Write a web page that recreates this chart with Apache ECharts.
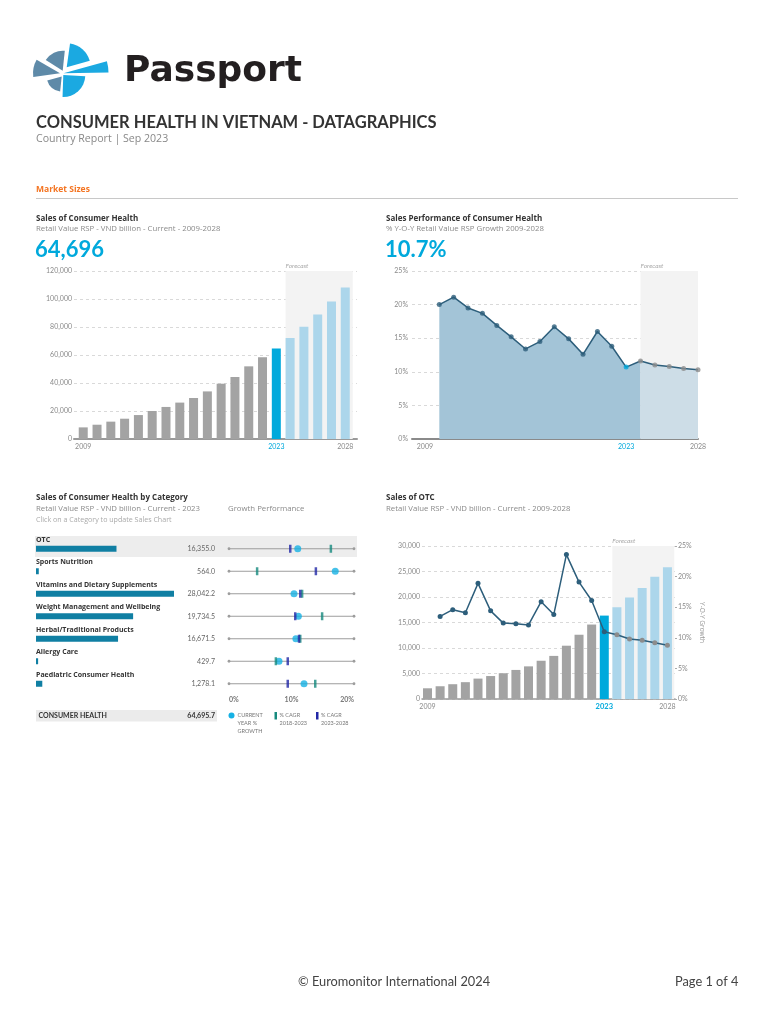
<!DOCTYPE html>
<html>
<head>
<meta charset="utf-8">
<title>Consumer Health in Vietnam - Datagraphics</title>
<script src="https://cdn.jsdelivr.net/npm/echarts@6/dist/echarts.min.js"></script>
<style>
html, body { margin: 0; padding: 0; background: #fff; }
#page { width: 768px; height: 1024px; }
</style>
</head>
<body>
<div id="page"></div>
<script>
// values
const years = ['2009', '2010', '2011', '2012', '2013', '2014', '2015', '2016', '2017', '2018',
               '2019', '2020', '2021', '2022', '2023', '2024', '2025', '2026', '2027', '2028'];
const lastActual = '2023';
const yearLabels = [2009, 2023, 2028];

const healthSales = [8300, 10200, 12400, 14500, 17100, 20000, 22900, 26000, 29300, 34000,
                     39500, 44300, 51900, 58400, 64696, 72200, 80200, 89000, 98200, 108300];
const healthGrowth = [null, 20.0, 21.1, 19.5, 18.7, 16.9, 15.2, 13.4, 14.5, 16.7,
                      14.9, 12.6, 16.0, 13.8, 10.7, 11.6, 11.0, 10.8, 10.5, 10.3];

const otcSales = [2100, 2500, 2900, 3300, 4000, 4500, 5050, 5700, 6400, 7500,
                  8450, 10450, 12600, 14600, 16355, 18000, 19900, 21750, 23950, 25850];
const otcGrowth = [null, 13.5, 14.6, 14.1, 18.9, 14.4, 12.4, 12.3, 12.1, 15.9,
                   13.8, 23.6, 19.1, 16.1, 11.0, 10.5, 9.8, 9.6, 9.2, 8.8];

const categories = ['OTC', 'Sports Nutrition', 'Vitamins and Dietary Supplements',
                    'Weight Management and Wellbeing', 'Herbal/Traditional Products',
                    'Allergy Care', 'Paediatric Consumer Health'];
const categorySales = [16355.0, 564.0, 28042.2, 19734.5, 16671.5, 429.7, 1278.1];
const currentGrowth = [11.0, 17.0, 10.4, 11.1, 10.7, 8.0, 12.0];
const cagr1823 = [16.3, 4.5, 11.7, 14.9, 11.4, 7.5, 13.8];
const cagr2328 = [9.8, 13.9, 11.4, 10.6, 11.2, 9.4, 9.4];
const totalSales = 64695.7;

const cyan = '#00a9dc';
const grey = '#a3a3a3';
const light = '#acd6eb';
const band = '#f3f3f3';
const dark = '#2d5e7b';
const font = 'Lato';
const small = 'Open Sans';

function barColor(y) {
    if (y === lastActual) return cyan;
    return +y > +lastActual ? light : grey;
}
function markerColor(y) {
    if (+y > +lastActual) return '#8c8c8c';
    return dark;
}
function num(v, d) {
    return v.toLocaleString('en-US', {minimumFractionDigits: d, maximumFractionDigits: d});
}
function yearFmt(v) {
    return String(v) === lastActual ? '{hl|' + v + '}' : String(v);
}
function txt(x, y, text, size, opt) {
    opt = opt || {};
    return {
        type: 'text', x: x, y: y, silent: true,
        style: {
            text: text,
            font: (opt.italic ? 'italic ' : '') + (opt.weight || 'normal') + ' ' + size + 'px ' + (opt.family || font),
            fill: opt.color || '#333',
            align: opt.align || 'left',
            verticalAlign: 'middle'
        }
    };
}
function piece(cx, cy, r, a0, a1, color) {
    return {
        type: 'sector', silent: true,
        shape: {cx: cx, cy: cy, r0: 0, r: r, startAngle: a0 * Math.PI / 180, endAngle: a1 * Math.PI / 180},
        style: {fill: color}
    };
}

const yearAxisLabel = {
    customValues: yearLabels, formatter: yearFmt, fontSize: 7, color: '#8a8a8a', margin: 4,
    fontFamily: font, rich: {hl: {color: cyan, fontSize: 7, fontFamily: font}}
};
const forecastLabel = {
    show: true, position: 'insideTopLeft', distance: 0, offset: [0, -9],
    formatter: 'Forecast', fontStyle: 'italic', fontSize: 6.5, color: '#a8a8a8', fontFamily: font
};

const chart = echarts.init(document.getElementById('page'));

const option = {
    backgroundColor: '#fff',
    animation: false,
    textStyle: {fontFamily: font},
    grid: [
        {left: 74, top: 271, width: 283, height: 168},
        {left: 412, top: 271, width: 286, height: 168},
        {left: 36, top: 537.5, width: 138, height: 157.5},
        {left: 229, top: 537.5, width: 125, height: 157.5},
        {left: 422, top: 546, width: 253, height: 153}
    ],
    xAxis: [
        {type: 'value', gridIndex: 0, min: 2008.33, max: 2028.85,
         axisLine: {show: true, lineStyle: {color: '#9a9a9a', width: 2}},
         axisTick: {show: false}, splitLine: {show: false}, axisLabel: yearAxisLabel},
        {type: 'value', gridIndex: 1, min: 2008.1, max: 2028,
         axisLine: {show: true, lineStyle: {color: '#8a8a8a', width: 2}},
         axisTick: {show: false}, splitLine: {show: false}, axisLabel: yearAxisLabel},
        {type: 'value', gridIndex: 2, min: 0, max: 'dataMax', show: false},
        {type: 'value', gridIndex: 3, min: 0, max: 20, interval: 10,
         axisLine: {show: false}, axisTick: {show: false}, splitLine: {show: false},
         axisLabel: {formatter: '{value}%', fontSize: 7, fontWeight: 'bold', color: '#777', margin: 1,
                     alignMinLabel: 'left', alignMaxLabel: 'right'}},
        {type: 'value', gridIndex: 4, min: 2008.565, max: 2028.6,
         axisLine: {show: true, lineStyle: {color: '#9a9a9a', width: 1.5}},
         axisTick: {show: false}, splitLine: {show: false},
         axisLabel: Object.assign({}, yearAxisLabel, {rich: {hl: {color: cyan, fontSize: 7.5, fontWeight: 'bold'}}})}
    ],
    yAxis: [
        {type: 'value', gridIndex: 0, min: 0, max: 120000, interval: 20000,
         axisLine: {show: false}, axisTick: {show: false},
         axisLabel: {fontSize: 7, color: '#8a8a8a', margin: 2, formatter: v => num(v, 0)},
         splitLine: {lineStyle: {type: [3, 3], color: '#d9d9d9'}}},
        {type: 'value', gridIndex: 1, min: 0, max: 25, interval: 5,
         axisLine: {show: false}, axisTick: {show: false},
         axisLabel: {fontSize: 7, color: '#8a8a8a', margin: 4, formatter: '{value}%'},
         splitLine: {lineStyle: {type: [3, 3], color: '#d9d9d9'}}},
        {type: 'category', gridIndex: 2, data: categories, inverse: true, show: false},
        {type: 'category', gridIndex: 3, data: categories, inverse: true,
         axisLine: {show: false}, axisTick: {show: false},
         axisLabel: {fontSize: 7, color: '#666', margin: 14, formatter: (v, i) => num(categorySales[i], 1)}},
        {type: 'value', gridIndex: 4, min: 0, max: 30000, interval: 5000,
         axisLine: {show: false}, axisTick: {show: false},
         axisLabel: {fontSize: 7, color: '#8a8a8a', margin: 2, formatter: v => num(v, 0)},
         splitLine: {lineStyle: {type: [3, 3], color: '#d9d9d9'}}},
        {type: 'value', gridIndex: 4, position: 'right', min: 0, max: 25, interval: 5,
         axisLine: {show: false}, axisTick: {show: true, length: 2, lineStyle: {color: '#aaa'}},
         axisLabel: {fontSize: 7, color: '#8a8a8a', margin: 3, formatter: '{value}%'},
         splitLine: {show: false},
         name: 'Y-O-Y Growth', nameLocation: 'middle', nameRotate: -90, nameGap: 23,
         nameTextStyle: {fontSize: 6.5, color: '#999', fontFamily: small}}
    ],
    series: [
        {   // Sales of Consumer Health
            type: 'bar', xAxisIndex: 0, yAxisIndex: 0, barWidth: 9, silent: true,
            data: years.map((y, i) => ({value: [+y, healthSales[i]], itemStyle: {color: barColor(y)}})),
            markArea: {silent: true, itemStyle: {color: band}, label: forecastLabel,
                       data: [[{xAxis: 2023.67}, {xAxis: 2028.54}]]}
        },
        {   // growth, actual part
            type: 'line', xAxisIndex: 1, yAxisIndex: 1, showSymbol: false, silent: true,
            lineStyle: {color: dark, width: 1.5}, areaStyle: {color: '#a3c4d7', opacity: 1},
            data: years.map((y, i) => [+y, healthGrowth[i]])
                       .filter(p => p[1] !== null && p[0] <= +lastActual + 1),
            markArea: {silent: true, itemStyle: {color: band}, label: forecastLabel,
                       data: [[{xAxis: +lastActual + 1}, {xAxis: 2028}]]}
        },
        {   // growth, forecast part
            type: 'line', xAxisIndex: 1, yAxisIndex: 1, showSymbol: false, silent: true,
            lineStyle: {color: dark, width: 1.5}, areaStyle: {color: '#cddde7', opacity: 1},
            data: years.map((y, i) => [+y, healthGrowth[i]]).filter(p => p[0] >= +lastActual + 1)
        },
        {
            type: 'scatter', xAxisIndex: 1, yAxisIndex: 1, symbolSize: 5, silent: true, z: 5,
            data: years.map((y, i) => ({value: [+y, healthGrowth[i]],
                itemStyle: {color: y === lastActual ? cyan : markerColor(y)}}))
                .filter(d => d.value[1] !== null)
        },
        {   // by category
            type: 'bar', xAxisIndex: 2, yAxisIndex: 2, barWidth: 6, silent: true,
            itemStyle: {color: '#107fa3'},
            data: categorySales,
            label: {show: true, position: [0, -6], align: 'left', verticalAlign: 'middle',
                    formatter: '{b}', fontSize: 7, fontWeight: 'bold', color: '#333', fontFamily: small}
        },
        {   // growth tracks
            type: 'custom', xAxisIndex: 3, yAxisIndex: 3, silent: true,
            data: categories.map((c, i) => [0, i]),
            renderItem: function (params, api) {
                const p = api.coord([0, api.value(1)]);
                const x1 = params.coordSys.x + params.coordSys.width;
                return {type: 'group', children: [
                    {type: 'line', shape: {x1: p[0], y1: p[1], x2: x1, y2: p[1]}, style: {stroke: '#9d9d9d', lineWidth: 1}},
                    {type: 'circle', shape: {cx: p[0], cy: p[1], r: 1.4}, style: {fill: '#9d9d9d'}},
                    {type: 'circle', shape: {cx: x1, cy: p[1], r: 1.4}, style: {fill: '#9d9d9d'}}
                ]};
            }
        },
        {
            type: 'scatter', xAxisIndex: 3, yAxisIndex: 3, symbol: 'circle', symbolSize: 7, silent: true, z: 3,
            itemStyle: {color: '#16b1e4'}, data: currentGrowth.map((v, i) => [v, i])
        },
        {
            type: 'scatter', xAxisIndex: 3, yAxisIndex: 3, symbol: 'rect', symbolSize: [2.5, 8], silent: true, z: 4,
            itemStyle: {color: '#178a7e'}, data: cagr1823.map((v, i) => [v, i])
        },
        {
            type: 'scatter', xAxisIndex: 3, yAxisIndex: 3, symbol: 'rect', symbolSize: [2.5, 8], silent: true, z: 5,
            itemStyle: {color: '#2228a6'}, data: cagr2328.map((v, i) => [v, i])
        },
        {   // Sales of OTC
            type: 'bar', xAxisIndex: 4, yAxisIndex: 4, barWidth: 9, silent: true,
            data: years.map((y, i) => ({value: [+y, otcSales[i]], itemStyle: {color: barColor(y)}})),
            markArea: {silent: true, itemStyle: {color: band}, label: forecastLabel,
                       data: [[{xAxis: 2023.64}, {xAxis: 2028.54}]]}
        },
        {
            type: 'line', xAxisIndex: 4, yAxisIndex: 5, symbol: 'circle', symbolSize: 5, silent: true, z: 5,
            lineStyle: {color: dark, width: 1.5},
            data: years.map((y, i) => ({value: [+y, otcGrowth[i]], itemStyle: {color: markerColor(y)}}))
                       .filter(d => d.value[1] !== null)
        }
    ],
    graphic: [
        // logo
        piece(66.7, 67.3, 24, -82, -16, '#1ba9e1'),
        piece(63.5, 73.3, 45, -15.4, -1, '#1ba9e1'),
        piece(63.3, 75, 22, 3, 92, '#1ba9e1'),
        piece(62.7, 70.7, 20, -148, -84, '#5e8aa8'),
        piece(60, 73.3, 27, 172, 210, '#5e8aa8'),
        piece(61.7, 76.5, 15, 96, 165, '#5e8aa8'),
        txt(124, 72, 'Passport', 36, {weight: 'bold', family: 'DejaVu Sans', color: '#231f20'}),

        txt(36, 122.5, 'CONSUMER HEALTH IN VIETNAM - DATAGRAPHICS', 16.5, {weight: 'bold', color: '#333'}),
        txt(36, 139, 'Country Report | Sep 2023', 10.6, {color: '#888', family: small}),
        txt(36, 190, 'Market Sizes', 8.5, {weight: 'bold', color: '#f47421', family: small}),
        {type: 'line', silent: true, shape: {x1: 36, y1: 198.5, x2: 738, y2: 198.5}, style: {stroke: '#c8c8c8', lineWidth: 1}},

        txt(36, 218.3, 'Sales of Consumer Health', 8, {weight: 'bold', family: small}),
        txt(36, 229, 'Retail Value RSP - VND billion - Current - 2009-2028', 7.8, {color: '#8a8a8a', family: small}),
        txt(35, 250, num(healthSales[years.indexOf(lastActual)], 0), 22, {weight: 'bold', color: cyan}),

        txt(386, 218.3, 'Sales Performance of Consumer Health', 8, {weight: 'bold', family: small}),
        txt(386, 229, '% Y-O-Y Retail Value RSP Growth 2009-2028', 7.8, {color: '#8a8a8a', family: small}),
        txt(385, 250, num(healthGrowth[years.indexOf(lastActual)], 1) + '%', 22, {weight: 'bold', color: cyan}),

        txt(36, 497.3, 'Sales of Consumer Health by Category', 8, {weight: 'bold', family: small}),
        txt(36, 508.5, 'Retail Value RSP - VND billion - Current - 2023', 7.8, {color: '#8a8a8a', family: small}),
        txt(228, 508.5, 'Growth Performance', 7.8, {color: '#8a8a8a', family: small}),
        txt(36, 519.5, 'Click on a Category to update Sales Chart', 7.1, {color: '#aaa', family: small}),

        {type: 'rect', silent: true, z: -10, shape: {x: 35, y: 536, width: 322, height: 21}, style: {fill: '#ededed'}},
        {type: 'rect', silent: true, z: -10, shape: {x: 36, y: 710, width: 181, height: 11.5}, style: {fill: '#ebebeb'}},
        txt(38.5, 716, 'CONSUMER HEALTH', 7, {weight: 'bold'}),
        txt(215, 716, num(totalSales, 1), 7, {weight: 'bold', align: 'right'}),

        {type: 'circle', silent: true, shape: {cx: 231.5, cy: 715.5, r: 3}, style: {fill: '#16b1e4'}},
        txt(237.5, 715.7, 'CURRENT', 5.5, {color: '#777'}),
        txt(237.5, 723.3, 'YEAR %', 5.5, {color: '#777'}),
        txt(237.5, 730.8, 'GROWTH', 5.5, {color: '#777'}),
        {type: 'rect', silent: true, shape: {x: 274.5, y: 712, width: 2.5, height: 7.5}, style: {fill: '#178a7e'}},
        txt(279.5, 715.7, '% CAGR', 5.5, {color: '#777'}),
        txt(279.5, 723.3, '2018-2023', 5.5, {color: '#777'}),
        {type: 'rect', silent: true, shape: {x: 316, y: 712, width: 2.5, height: 7.5}, style: {fill: '#2228a6'}},
        txt(321, 715.7, '% CAGR', 5.5, {color: '#777'}),
        txt(321, 723.3, '2023-2028', 5.5, {color: '#777'}),

        txt(386, 497.3, 'Sales of OTC', 8, {weight: 'bold', family: small}),
        txt(386, 508.5, 'Retail Value RSP - VND billion - Current - 2009-2028', 7.8, {color: '#8a8a8a', family: small}),

        txt(298, 982, '\u00a9 Euromonitor International 2024', 12.8, {color: '#444'}),
        txt(675, 982, 'Page 1 of 4', 12.8, {color: '#444'})
    ]
};

chart.setOption(option);
</script>
</body>
</html>
